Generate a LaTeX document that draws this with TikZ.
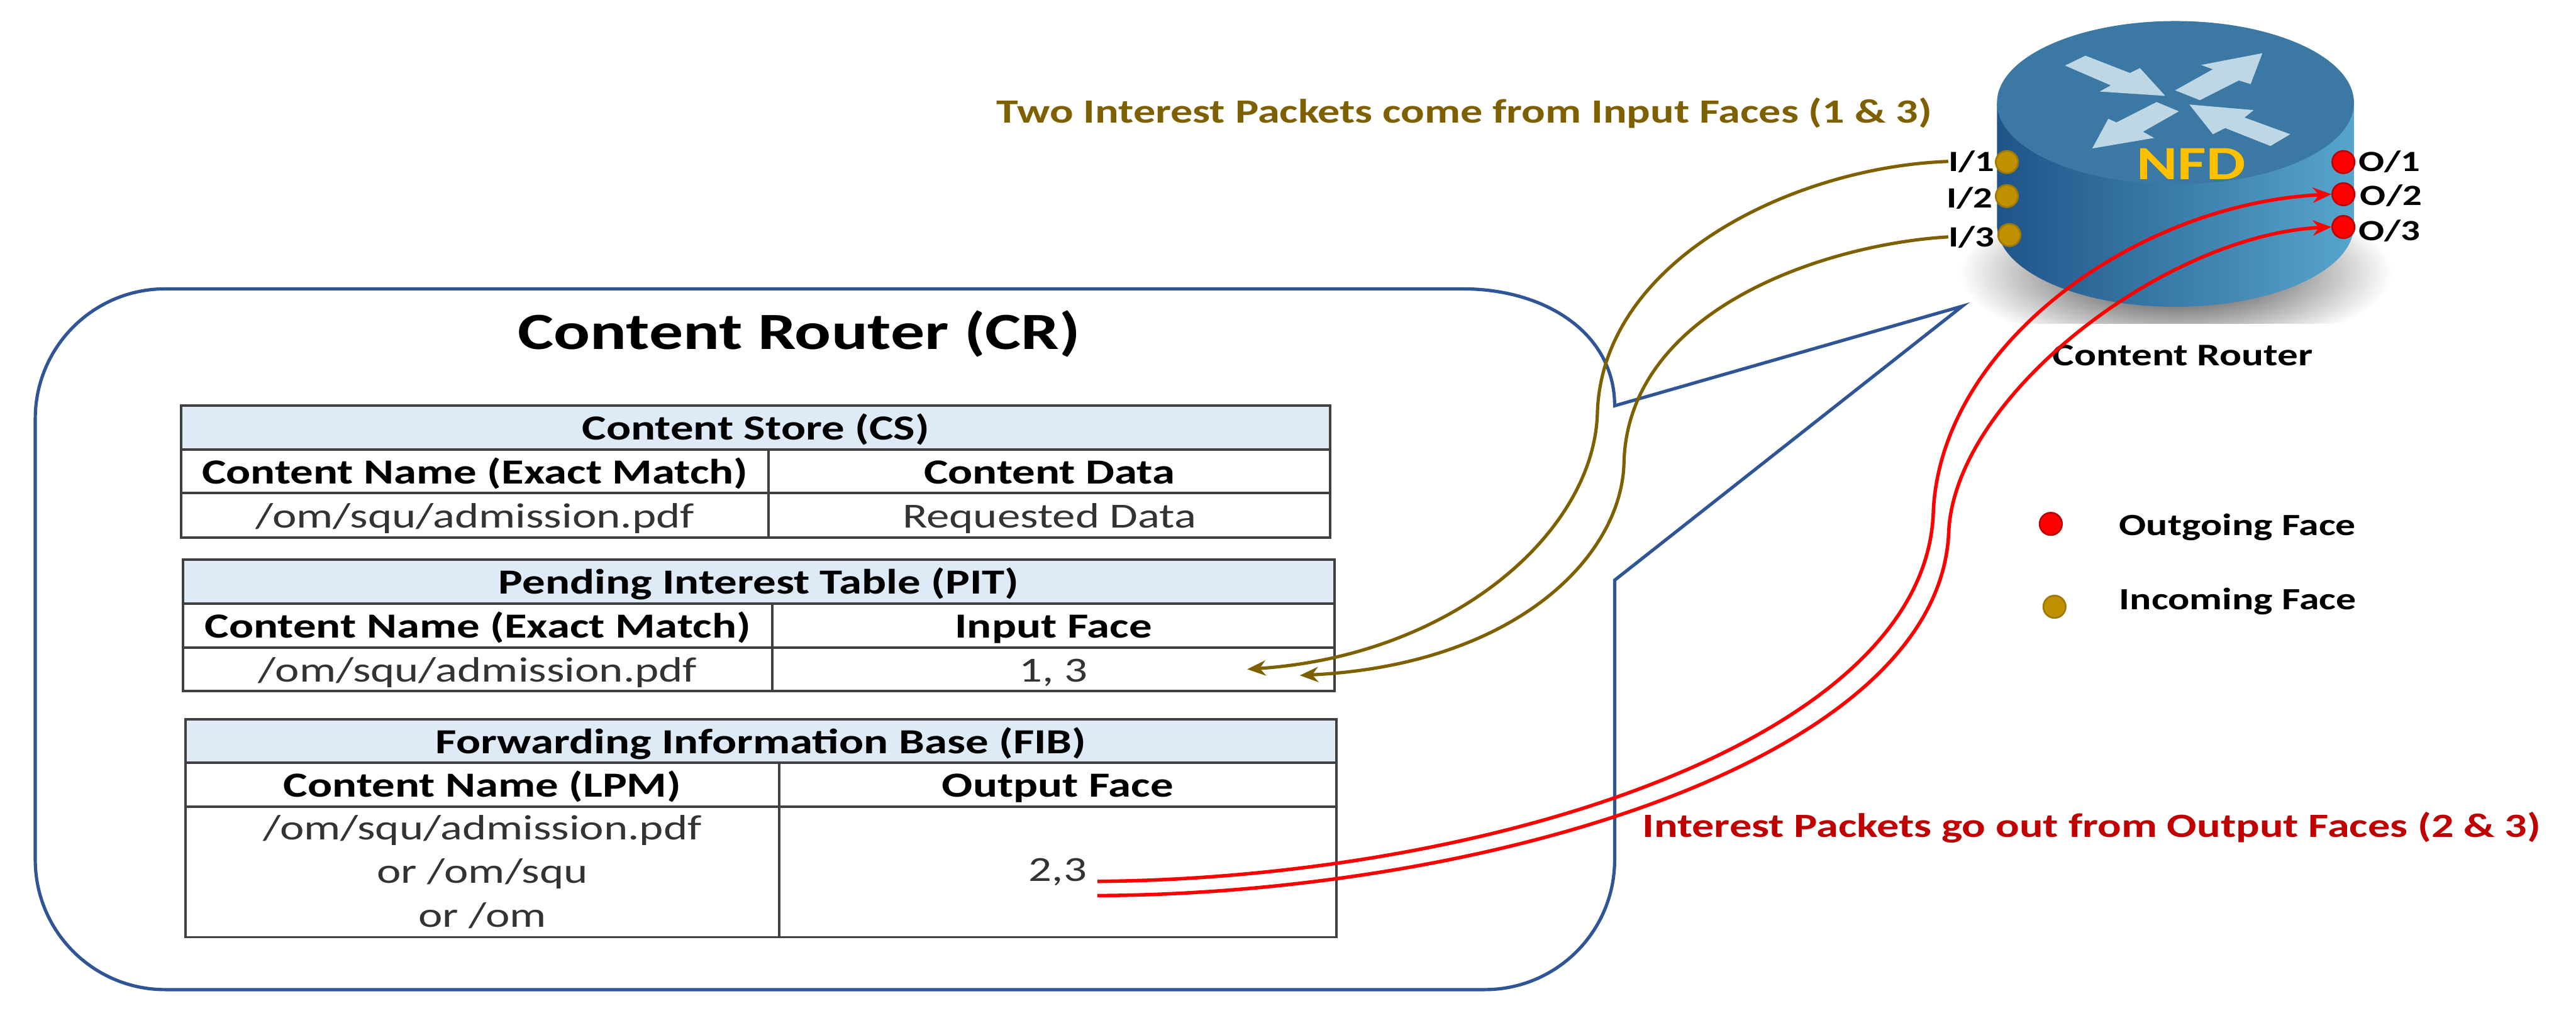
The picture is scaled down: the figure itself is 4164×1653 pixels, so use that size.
\documentclass[tikz,border=0pt]{standalone}
\usepackage{fontspec}
\setmainfont[FakeStretch=1.3]{Carlito}
\usetikzlibrary{positioning,shapes.geometric,arrows.meta}
\definecolor{crblue}{HTML}{2F5597}
\definecolor{inbrown}{HTML}{7F6000}
\definecolor{outred}{HTML}{C00000}
\definecolor{headblue}{HTML}{DEEAF6}
\definecolor{gridgray}{HTML}{404040}
\definecolor{nfdtop}{HTML}{3B78A3}
\definecolor{nfdleft}{HTML}{1F5488}
\definecolor{nfdright}{HTML}{56A5CC}
\definecolor{nfdarrow}{HTML}{BDD7E5}

\begin{document}
\begin{tikzpicture}[
        x=0.01cm, y=-0.01cm,
        >={Stealth[length=8.5pt,width=7pt]},
        tblhead/.style={draw=gridgray, line width=1.1pt, fill=headblue, inner sep=0pt, outer sep=0pt, font=\fontsize{16.2}{18}\selectfont\bfseries, text height=13.8pt, text depth=2.4pt, anchor=north west},
        tblbold/.style={draw=gridgray, line width=1.1pt, inner sep=0pt, outer sep=0pt, font=\fontsize{16.2}{18}\selectfont\bfseries, text height=13.8pt, text depth=2.4pt, anchor=north west},
        tblcell/.style={draw=gridgray, line width=1.1pt, inner sep=0pt, outer sep=0pt, font=\fontsize{16.2}{20}\selectfont, anchor=north west, align=center, text=black!80},
        tblline/.style={tblcell, text height=13.8pt, text depth=2.4pt},
        portlabel/.style={font=\fontsize{13.5}{16}\selectfont\bfseries, inner sep=0pt},
        keylabel/.style={font=\fontsize{14.2}{16}\selectfont\bfseries, inner sep=0pt},
        inface/.style={ellipse, draw={rgb,255:red,160;green,122;blue,0}, fill={rgb,255:red,191;green,144;blue,0}, line width=0.8pt, minimum width=0.36cm, minimum height=0.36cm, inner sep=0pt},
        outface/.style={ellipse, draw=outred, fill=red, line width=0.8pt, minimum width=0.36cm, minimum height=0.36cm, inner sep=0pt},
        inwire/.style={draw=inbrown, line width=1.5pt, ->},
        outwire/.style={draw=red, line width=1.6pt, ->},
        petal/.style={fill=nfdarrow}
    ]
        \useasboundingbox (0,0) rectangle (4164,1653);

        % Router shadow
        \begin{scope}
            \clip (3100,380) rectangle (3900,523);
            \shade[inner color=black!85, outer color=white] (3517,440) ellipse (350 and 130);
        \end{scope}

        % Router body
        \shade[left color=nfdleft, right color=nfdright] (3228,166) -- (3228,364) arc[start angle=180, end angle=0, x radius=288.5, y radius=132] -- (3805,166) -- cycle;
        \fill[nfdtop] (3516.5,166) ellipse (288.5 and 132);

        % Arrows on the router top
        \fill[petal] (3338,106) -- (3371,90) -- (3443,118) -- (3459,110) -- (3500,155) -- (3394,148) -- (3412,138) -- cycle;
        \fill[petal] (3657,86) -- (3558,105) -- (3577,112) -- (3516,146) -- (3556,162) -- (3619,130) -- (3638,136) -- cycle;
        \fill[petal] (3382,240) -- (3408,192) -- (3421,198) -- (3486,165) -- (3522,180) -- (3464,213) -- (3482,223) -- cycle;
        \fill[petal] (3539,169) -- (3643,178) -- (3628,190) -- (3702,217) -- (3670,236) -- (3597,207) -- (3577,217) -- cycle;
        \node[font=\fontsize{22}{26}\selectfont\bfseries, text={rgb,255:red,255;green,192;blue,0}, inner sep=0pt] (nfd) at (3542,265) {NFD};

        % Faces
        \node[inface] (i1) at (3244,262) {};
        \node[inface] (i2) at (3244,317) {};
        \node[inface] (i3) at (3248,380) {};
        \node[outface] (o1) at (3788,262) {};
        \node[outface] (o2) at (3788,314) {};
        \node[outface] (o3) at (3788,367) {};
        \node[portlabel] (i1lbl) at (3187,261) {I/1};
        \node[portlabel] (i2lbl) at (3184,320) {I/2};
        \node[portlabel] (i3lbl) at (3187,383) {I/3};
        \node[portlabel] (o1lbl) at (3862,261) {O/1};
        \node[portlabel] (o2lbl) at (3865,316) {O/2};
        \node[portlabel] (o3lbl) at (3862,373) {O/3};
        \node[portlabel, font=\fontsize{14.5}{16}\selectfont\bfseries] (routerlbl) at (3528,575) {Content Router};

        % Callout outline
        \draw[crblue, line width=1.5pt] (3172,495) -- (2610,656) .. controls (2610,540) and (2500,467) .. (2364,467) -- (267,467) arc[start angle=270, end angle=180, radius=210] -- (57,1390) arc[start angle=180, end angle=90, radius=210] -- (2400,1600) arc[start angle=90, end angle=0, radius=210] -- (2610,938) -- cycle;
        \node[font=\fontsize{24}{28}\selectfont\bfseries, inner sep=0pt] (crtitle) at (1292,540) {Content Router (CR)};

        % Content Store
        \node[tblhead, minimum width=18.56cm, minimum height=0.71cm] (csHead) at (293,656) {Content Store (CS)};
        \node[tblbold, minimum width=9.49cm, minimum height=0.70cm, below=0pt of csHead.south west, anchor=north west] (csNameH) {Content Name (Exact Match)};
        \node[tblbold, minimum width=9.07cm, minimum height=0.70cm, right=0pt of csNameH.north east, anchor=north west] (csDataH) {Content Data};
        \node[tblline, minimum width=9.49cm, minimum height=0.72cm, below=0pt of csNameH.south west, anchor=north west] (csName) {/om/squ/admission.pdf};
        \node[tblline, minimum width=9.07cm, minimum height=0.72cm, right=0pt of csName.north east, anchor=north west] (csData) {Requested Data};

        % Pending Interest Table
        \node[tblhead, minimum width=18.60cm, minimum height=0.71cm] (pitHead) at (296,905) {Pending Interest Table (PIT)};
        \node[tblbold, minimum width=9.52cm, minimum height=0.71cm, below=0pt of pitHead.south west, anchor=north west] (pitNameH) {Content Name (Exact Match)};
        \node[tblbold, minimum width=9.08cm, minimum height=0.71cm, right=0pt of pitNameH.north east, anchor=north west] (pitFaceH) {Input Face};
        \node[tblline, minimum width=9.52cm, minimum height=0.70cm, below=0pt of pitNameH.south west, anchor=north west] (pitName) {/om/squ/admission.pdf};
        \node[tblline, minimum width=9.08cm, minimum height=0.70cm, right=0pt of pitName.north east, anchor=north west] (pitFace) {1, 3};

        % Forwarding Information Base
        \node[tblhead, minimum width=18.59cm, minimum height=0.70cm] (fibHead) at (300,1163) {Forwarding Information Base (FIB)};
        \node[tblbold, minimum width=9.59cm, minimum height=0.71cm, below=0pt of fibHead.south west, anchor=north west] (fibNameH) {Content Name (LPM)};
        \node[tblbold, minimum width=9.00cm, minimum height=0.71cm, right=0pt of fibNameH.north east, anchor=north west] (fibFaceH) {Output Face};
        \node[tblcell, minimum width=9.59cm, minimum height=2.11cm, below=0pt of fibNameH.south west, anchor=north west] (fibName) {/om/squ/admission.pdf\\or /om/squ\\or /om};
        \node[tblcell, minimum width=9.00cm, minimum height=2.11cm, right=0pt of fibName.north east, anchor=north west] (fibFace) {2,3};

        % Wire ends inside the tables
        \coordinate (pitTipA) at (2016,1082);
        \coordinate (pitTipB) at (2101,1092);
        \coordinate (fibEndA) at (1774,1425);
        \coordinate (fibEndB) at (1774,1448);

        % Incoming wires
        \draw[inwire] (i1lbl.west) .. controls (2900,270) and (2588,420) .. (2582,670) .. controls (2575,860) and (2350,1060) .. (pitTipA);
        \draw[inwire] (i3lbl.west) .. controls (2950,395) and (2630,500) .. (2625,750) .. controls (2620,900) and (2450,1075) .. (pitTipB);

        % Outgoing wires
        \draw[outwire] (fibEndA) .. controls (2400,1420) and (3110,1200) .. (3125,830) .. controls (3135,560) and (3450,330) .. (o2.west);
        \draw[outwire] (fibEndB) .. controls (2400,1445) and (3135,1230) .. (3150,860) .. controls (3160,640) and (3500,380) .. (o3.west);

        % Captions
        \node[font=\fontsize{15.6}{18}\selectfont\bfseries, text=inbrown, inner sep=0pt] (incaption) at (2367,183) {Two Interest Packets come from Input Faces (1 \& 3)};
        \node[font=\fontsize{15.6}{18}\selectfont\bfseries, text=outred, inner sep=0pt] (outcaption) at (3381,1338) {Interest Packets go out from Output Faces (2 \& 3)};

        % Legend
        \node[outface] (outkey) at (3315,847) {};
        \node[inface] (inkey) at (3321,981) {};
        \node[keylabel, anchor=west] (outkeylbl) at (3425,852) {Outgoing Face};
        \node[keylabel, anchor=west] (inkeylbl) at (3425,972) {Incoming Face};
    \end{tikzpicture}
\end{document}
